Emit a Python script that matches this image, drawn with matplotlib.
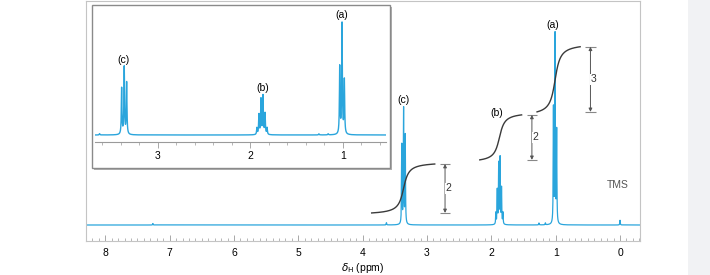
import numpy as np
import matplotlib.pyplot as plt
from matplotlib.patches import Rectangle
from matplotlib.ticker import MultipleLocator

plt.rcParams['font.family'] = ['Liberation Sans', 'DejaVu Sans']
plt.rcParams['mathtext.fontset'] = 'dejavusans'

# peak list of the 1H spectrum (ppm, relative height)
shift_a = [1.035, 1.010, 0.985]
height_a = [0.61, 1.00, 0.49]
shift_b = [1.930, 1.908, 1.886, 1.864, 1.842, 1.820]
height_b = [0.06, 0.18, 0.32, 0.35, 0.19, 0.06]
shift_c = [3.392, 3.364, 3.338]
height_c = [0.42, 0.61, 0.47]
shift_small = [7.26, 3.63, 1.26, 1.16, 0.00]
height_small = [0.008, 0.012, 0.01, 0.01, 0.025]

# integral traces
int_text = ['2', '2', '3']
int_start = [3.86, 2.18, 1.29]
int_end = [2.88, 1.53, 0.62]
int_low = [0.064, 0.346, 0.601]
int_high = [0.324, 0.585, 0.947]
int_centre = [3.365, 1.875, 1.01]

main_ticks = [8, 7, 6, 5, 4, 3, 2, 1, 0]
inset_ticks = [3, 2, 1]

blue = '#2aa5dc'
grey = '#9a9a9a'

# spectrum = sum of narrow lorentzian lines at the listed shifts
hw = 0.004
ppm = np.linspace(-0.4, 8.4, 26401)
shifts = shift_a + shift_b + shift_c + shift_small
heights = height_a + height_b + height_c + height_small
spec = np.zeros_like(ppm)
for s, h in zip(shifts, heights):
    spec += h / (1 + ((ppm - s) / hw) ** 2)


def integral_curve(x0, x1, lo, hi, c, w=0.06):
    x = np.linspace(x0, x1, 300)
    f = 0.5 - np.arctan((x - c) / w) / np.pi
    f0 = 0.5 - np.arctan((x0 - c) / w) / np.pi
    f1 = 0.5 - np.arctan((x1 - c) / w) / np.pi
    f = (f - f0) / (f1 - f0)
    return x, lo + (hi - lo) * f


fig = plt.figure(figsize=(7.1, 2.75), dpi=100)
fig.patches.append(Rectangle((688 / 710, 0), 22 / 710, 1, transform=fig.transFigure,
                             facecolor='#f1f2f4', edgecolor='none', zorder=0))

# main spectrum
ax = fig.add_axes([86 / 710, 1 - 241 / 275, 554 / 710, 240 / 275])
ax.plot(ppm, spec, color=blue, lw=0.9)
ax.set_xlim(8.30, -0.31)
ax.set_ylim(-0.085, 1.19)
for sp in ax.spines.values():
    sp.set_color('#c4c4c4')
    sp.set_linewidth(0.8)
ax.set_yticks([])
ax.set_xticks(main_ticks)
ax.set_xticklabels([str(t) for t in main_ticks])
ax.xaxis.set_minor_locator(MultipleLocator(0.1))
ax.tick_params(axis='x', which='major', direction='in', length=4, width=0.6,
               color=grey, labelsize=7.5, pad=5)
ax.tick_params(axis='x', which='minor', direction='in', length=2, width=0.5, color=grey)
ax.set_xlabel(r'$\delta_\mathrm{H}$ (ppm)', fontsize=7.5, labelpad=2)

for i in range(3):
    xs, ys = integral_curve(int_start[i], int_end[i], int_low[i], int_high[i], int_centre[i])
    ax.plot(xs, ys, color='#3a3a3a', lw=1.0, zorder=4)
    bx = int_end[i] - 0.16
    ax.annotate('', xy=(bx, int_high[i]), xytext=(bx, int_low[i]),
                arrowprops=dict(arrowstyle='<|-|>', color='#555555', lw=0.7,
                                mutation_scale=5, shrinkA=0, shrinkB=0))
    ax.hlines([int_low[i], int_high[i]], bx - 0.08, bx + 0.08, color='#888888', lw=0.8)
    ax.text(bx - 0.055, (int_low[i] + int_high[i]) / 2, int_text[i], fontsize=7.5,
            ha='center', va='center', color='#333333',
            bbox=dict(facecolor='white', edgecolor='none', pad=0.5))

ax.text(3.37, 0.665, '(c)', fontsize=7.5, ha='center', va='center')
ax.text(1.91, 0.596, '(b)', fontsize=7.5, ha='center', va='center')
ax.text(1.05, 1.064, '(a)', fontsize=7.5, ha='center', va='center')
ax.text(0.04, 0.213, 'TMS', fontsize=7.5, ha='center', va='center', color='#555555')

# inset box with shadow
fig.patches.append(Rectangle((93.5 / 710, 1 - 170 / 275), 298.5 / 710, 163 / 275,
                             transform=fig.transFigure, facecolor='#b0b0b0',
                             edgecolor='none', zorder=2))
fig.patches.append(Rectangle((91.5 / 710, 1 - 168 / 275), 298.5 / 710, 163 / 275,
                             transform=fig.transFigure, facecolor='white',
                             edgecolor='#8a8a8a', lw=1.0, zorder=2))

ins = fig.add_axes([95 / 710, 1 - 141.7 / 275, 291 / 710, 131.7 / 275])
ins.set_zorder(3)
ins.patch.set_visible(False)
ins.plot(ppm, spec, color=blue, lw=1.0)
ins.set_xlim(3.68, 0.535)
ins.set_ylim(-0.061, 1.136)
for k in ['left', 'top', 'right']:
    ins.spines[k].set_visible(False)
ins.spines['bottom'].set_color(grey)
ins.spines['bottom'].set_linewidth(0.8)
ins.set_yticks([])
ins.set_xticks(inset_ticks)
ins.set_xticklabels([str(t) for t in inset_ticks])
ins.xaxis.set_minor_locator(MultipleLocator(0.2))
ins.tick_params(axis='x', which='major', direction='out', length=4, width=0.6,
                color=grey, labelsize=7.5, pad=3)
ins.tick_params(axis='x', which='minor', direction='out', length=2, width=0.5, color=grey)

ins.text(3.37, 0.68, '(c)', fontsize=7.5, ha='center', va='center')
ins.text(1.87, 0.43, '(b)', fontsize=7.5, ha='center', va='center')
ins.text(1.01, 1.09, '(a)', fontsize=7.5, ha='center', va='center')

fig.savefig('out.png', dpi=100)
